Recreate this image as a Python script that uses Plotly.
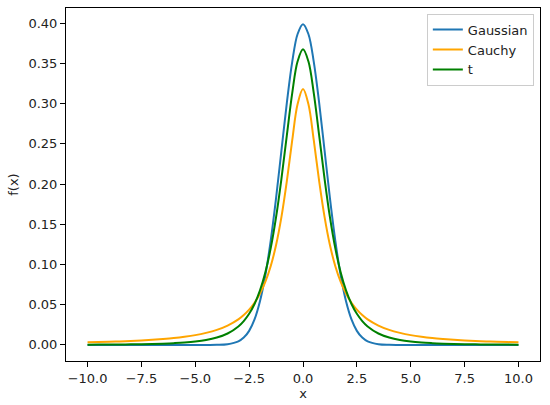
import plotly.graph_objects as go

# densities (right half; curves are symmetric about zero)
x_half = [0, 0.25, 0.5, 0.75, 1.0, 1.25, 1.5, 1.75, 2.0, 2.25, 2.5, 2.75, 3.0,
          3.5, 4.0, 4.5, 5.0, 5.5, 6.0, 6.5, 7.0, 7.5, 8.0, 8.5, 9.0, 9.5, 10.0]

gauss_half = [0.3989, 0.3867, 0.3521, 0.3011, 0.2420, 0.1826, 0.1295, 0.0863, 0.0540,
              0.0317, 0.0175, 0.0091, 0.0044,
              0.0009, 0.0001, 0.0, 0.0, 0.0, 0.0, 0.0, 0.0, 0.0, 0.0, 0.0, 0.0, 0.0, 0.0]
cauchy_half = [0.3183, 0.2996, 0.2546, 0.2037, 0.1592, 0.1242, 0.0979, 0.0784, 0.0637,
               0.0525, 0.0439, 0.0372, 0.0318,
               0.0241, 0.0187, 0.0150, 0.0122, 0.0102, 0.0086, 0.0074, 0.0064, 0.0056,
               0.0049, 0.0044, 0.0039, 0.0035, 0.0032]
t_half = [0.3676, 0.3527, 0.3132, 0.2607, 0.2068, 0.1589, 0.1200, 0.0900, 0.0675,
          0.0509, 0.0387, 0.0297, 0.0230,
          0.0142, 0.0092, 0.0061, 0.0042, 0.0030, 0.0022, 0.0016, 0.0012, 0.0009,
          0.0007, 0.0006, 0.0005, 0.0004, 0.0003]

x = [-v for v in x_half[:0:-1]] + x_half
gauss = gauss_half[:0:-1] + gauss_half
cauchy = cauchy_half[:0:-1] + cauchy_half
t_vals = t_half[:0:-1] + t_half

fig = go.Figure()
for name, y, col in [("Gaussian", gauss, "#1f77b4"),
                     ("Cauchy", cauchy, "orange"),
                     ("t", t_vals, "green")]:
    fig.add_trace(go.Scatter(x=x, y=y, name=name, mode="lines",
                             line=dict(color=col, width=2, shape="spline", smoothing=1.0)))

axis_style = dict(showline=True, mirror=True, linecolor="black", linewidth=1,
                  ticks="outside", ticklen=5, tickcolor="black", showgrid=False,
                  zeroline=False, automargin=False,
                  tickfont=dict(size=13, color="#222222"))

fig.update_xaxes(range=[-11, 11], tickvals=[-10, -7.5, -5, -2.5, 0, 2.5, 5, 7.5, 10],
                 tickformat=".1f", title=dict(text="x", font=dict(size=13), standoff=2),
                 **axis_style)
fig.update_yaxes(range=[-0.02, 0.419], tickvals=[0, 0.05, 0.1, 0.15, 0.2, 0.25, 0.3, 0.35, 0.4],
                 tickformat=".2f", title=dict(text="f(x)", font=dict(size=13), standoff=6),
                 **axis_style)

fig.update_layout(
    width=550, height=405,
    margin=dict(l=66, r=10, t=8, b=44),
    plot_bgcolor="white", paper_bgcolor="white",
    font=dict(family="DejaVu Sans", color="#222222"),
    legend=dict(x=0.987, y=0.984, xanchor="right", yanchor="top",
                bordercolor="#cccccc", borderwidth=1, bgcolor="rgba(255,255,255,0.8)",
                font=dict(size=13)),
)

# drop the browser's default body margin so the figure sits at the page corner
fig.write_html("out.html", config={"displayModeBar": False},
               post_script="document.body.style.margin = '0px';")
